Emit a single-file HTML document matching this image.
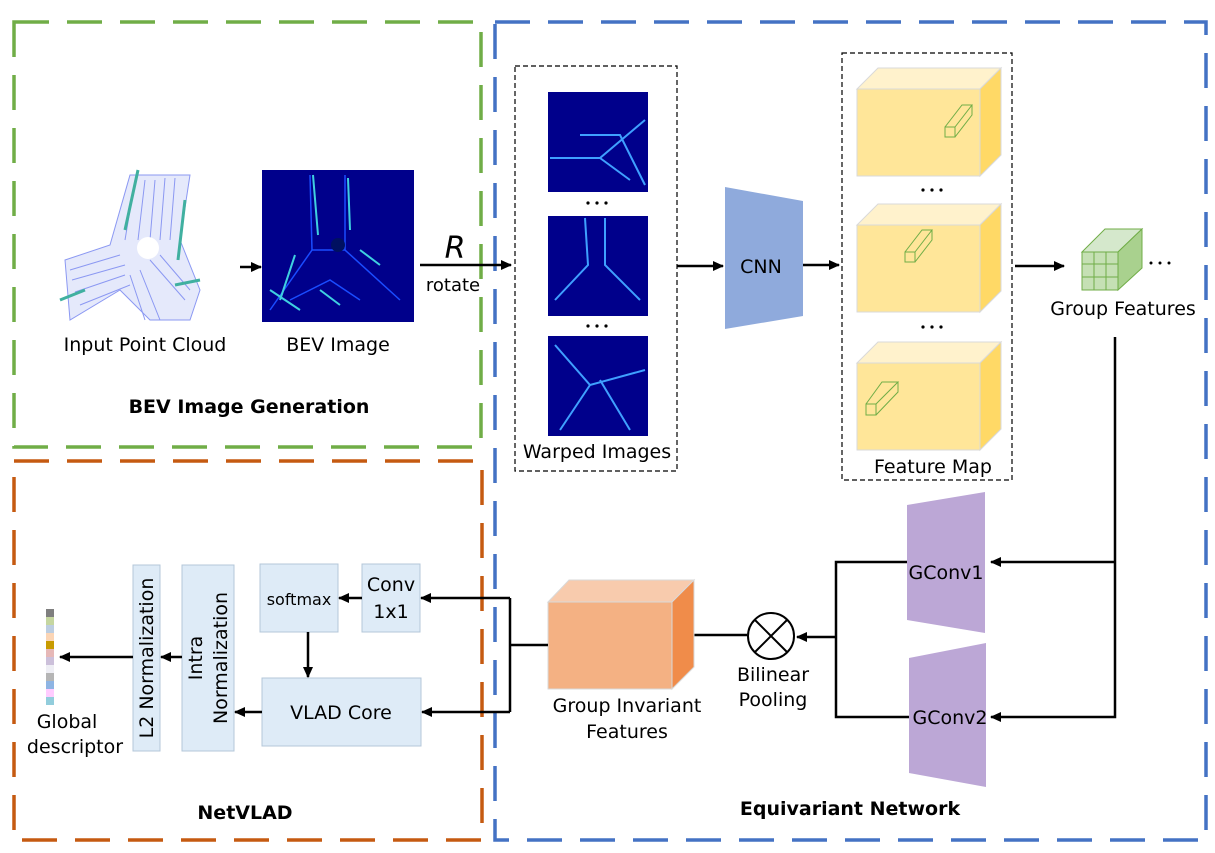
<!DOCTYPE html>
<html><head><meta charset="utf-8"><style>
html,body{margin:0;padding:0;background:#fff}
svg{display:block}
text{font-family:"DejaVu Sans","Liberation Sans",sans-serif;fill:#000}
</style></head><body>
<svg width="1215" height="853" viewBox="0 0 1215 853" xmlns="http://www.w3.org/2000/svg">
<defs>
<marker id="ah" viewBox="0 0 10 10" refX="9" refY="5" markerWidth="4.5" markerHeight="4.5" orient="auto"><path d="M0,0.5 L10,5 L0,9.5 z" fill="#000"/></marker>
</defs>
<!-- region boxes -->
<rect x="14" y="22" width="467" height="425" fill="none" stroke="#70ad47" stroke-width="3.5" stroke-dasharray="35,18"/>
<rect x="14" y="461" width="468" height="379" fill="none" stroke="#c55a11" stroke-width="3.5" stroke-dasharray="35,18"/>
<rect x="495" y="22" width="711" height="818" fill="none" stroke="#4472c4" stroke-width="3.5" stroke-dasharray="35,18"/>

<!-- point cloud -->
<g stroke="#6f7ff0" stroke-width="1" fill="none" opacity="0.8">
<path d="M130,175 L190,175 L180,240 L200,290 L190,320 L150,320 L120,290 L70,320 L65,260 L110,245 Z" fill="#dfe4fb"/>
<path d="M135,180 L125,240 M145,180 L138,240 M155,180 L150,240 M165,178 L160,240 M175,178 L170,240"/>
<path d="M70,270 L120,255 M72,280 L125,265 M75,292 L125,275 M80,305 L130,285 M150,260 L185,300 M160,255 L190,290 M140,270 L160,320 M130,275 L145,320"/>
</g>
<circle cx="148" cy="248" r="11" fill="#fff"/>
<g stroke="#40b0a0" stroke-width="3" fill="none">
<path d="M138,170 L125,230 M185,200 L178,260 M60,300 L85,290 M175,285 L200,280"/>
</g>
<text x="145" y="351" font-size="19" text-anchor="middle">Input Point Cloud</text>

<!-- BEV -->
<line x1="240" y1="267" x2="261" y2="267" stroke="#000" stroke-width="2.5" marker-end="url(#ah)"/>
<rect x="262" y="170" width="152" height="152" fill="#00008b"/>
<g stroke="#1a4cff" stroke-width="1.5" fill="none">
<path d="M310,175 L312,250 L270,310 M345,175 L345,250 L400,300 M312,250 L345,250 M290,300 L330,280 L360,300"/>
</g>
<g stroke="#3fd0e0" stroke-width="2" fill="none">
<path d="M313,175 L318,235 M348,178 L350,230 M295,255 L280,300 M360,250 L380,265 M270,290 L300,310 M320,290 L340,305"/>
</g>
<circle cx="338" cy="245" r="7" fill="#001060"/>
<text x="338" y="351" font-size="19" text-anchor="middle">BEV Image</text>
<text x="249" y="413" font-size="19" font-weight="bold" text-anchor="middle">BEV Image Generation</text>

<!-- rotate -->
<line x1="420" y1="265" x2="511" y2="265" stroke="#000" stroke-width="2.5" marker-end="url(#ah)"/>
<text x="455" y="258" font-size="30" font-style="italic" font-family="Liberation Serif,serif" text-anchor="middle">R</text>
<text x="453" y="291" font-size="18" text-anchor="middle">rotate</text>

<!-- warped images -->
<rect x="515" y="66" width="162" height="405" fill="none" stroke="#000" stroke-width="1.2" stroke-dasharray="5,3"/>
<g>
<rect x="548" y="92" width="100" height="100" fill="#00008b"/>
<path d="M550,158 L600,158 L645,120 M580,135 L620,135 L645,185 M600,158 L630,180" stroke="#3fa0ff" stroke-width="2" fill="none"/>
<rect x="548" y="216" width="100" height="100" fill="#00008b"/>
<path d="M585,218 L588,265 L555,300 M605,218 L605,265 L640,300" stroke="#3fa0ff" stroke-width="2" fill="none"/>
<rect x="548" y="336" width="100" height="100" fill="#00008b"/>
<path d="M555,345 L590,385 L645,370 M590,385 L560,430 M600,380 L630,430" stroke="#3fa0ff" stroke-width="2" fill="none"/>
</g>
<g fill="#000"><circle cx="588" cy="203" r="1.6"/><circle cx="597" cy="203" r="1.6"/><circle cx="606" cy="203" r="1.6"/>
<circle cx="588" cy="326" r="1.6"/><circle cx="597" cy="326" r="1.6"/><circle cx="606" cy="326" r="1.6"/></g>
<text x="597" y="458" font-size="19" text-anchor="middle">Warped Images</text>

<!-- CNN -->
<line x1="677" y1="266" x2="723" y2="266" stroke="#000" stroke-width="2.5" marker-end="url(#ah)"/>
<polygon points="725,187 803,201 803,316 725,329" fill="#8faadc"/>
<text x="761" y="273" font-size="19" text-anchor="middle">CNN</text>
<line x1="803" y1="265" x2="839" y2="265" stroke="#000" stroke-width="2.5" marker-end="url(#ah)"/>

<!-- feature map -->
<rect x="842" y="53" width="170" height="427" fill="none" stroke="#000" stroke-width="1.2" stroke-dasharray="5,3"/>
<g stroke="#d9d9d9" stroke-width="1">
<polygon points="857,89 878,68 1001,68 980,89" fill="#fff2cc"/>
<polygon points="980,89 1001,68 1001,155 980,176" fill="#ffd966"/>
<rect x="857" y="89" width="123" height="87" fill="#ffe699"/>
<polygon points="857,225 878,204 1001,204 980,225" fill="#fff2cc"/>
<polygon points="980,225 1001,204 1001,291 980,312" fill="#ffd966"/>
<rect x="857" y="225" width="123" height="87" fill="#ffe699"/>
<polygon points="857,363 878,342 1001,342 980,363" fill="#fff2cc"/>
<polygon points="980,363 1001,342 1001,429 980,450" fill="#ffd966"/>
<rect x="857" y="363" width="123" height="87" fill="#ffe699"/>
</g>
<g stroke="#70ad47" stroke-width="1" fill="none">
<rect x="945" y="127" width="10" height="10"/><path d="M945,127 L962,105 L972,105 L955,127 M972,105 L972,115 L955,137"/>
<rect x="905" y="252" width="10" height="10"/><path d="M905,252 L922,230 L932,230 L915,252 M932,230 L932,240 L915,262"/>
<rect x="866" y="404" width="10" height="11"/><path d="M866,404 L882,382 L898,382 L876,404 M898,382 L898,392 L876,415"/>
</g>
<g fill="#000"><circle cx="923" cy="190" r="1.6"/><circle cx="932" cy="190" r="1.6"/><circle cx="941" cy="190" r="1.6"/>
<circle cx="923" cy="327" r="1.6"/><circle cx="932" cy="327" r="1.6"/><circle cx="941" cy="327" r="1.6"/></g>
<text x="933" y="473" font-size="19" text-anchor="middle">Feature Map</text>

<!-- group features -->
<line x1="1015" y1="266" x2="1064" y2="266" stroke="#000" stroke-width="2.5" marker-end="url(#ah)"/>
<g stroke="#70ad47" stroke-width="1">
<polygon points="1082,252 1105,229 1142,229 1118,252" fill="#d5e8cc"/>
<polygon points="1118,252 1142,229 1142,268 1118,290" fill="#a9d18e"/>
<g fill="#c5e0b4">
<rect x="1082" y="252" width="12" height="12"/><rect x="1094" y="252" width="12" height="12"/><rect x="1106" y="252" width="12" height="12"/>
<rect x="1082" y="264" width="12" height="13"/><rect x="1094" y="264" width="12" height="13"/><rect x="1106" y="264" width="12" height="13"/>
<rect x="1082" y="277" width="12" height="13"/><rect x="1094" y="277" width="12" height="13"/><rect x="1106" y="277" width="12" height="13"/>
</g>
</g>
<g fill="#000"><circle cx="1151" cy="263" r="1.5"/><circle cx="1160" cy="263" r="1.5"/><circle cx="1169" cy="263" r="1.5"/></g>
<text x="1123" y="315" font-size="19" text-anchor="middle">Group Features</text>

<!-- connectors to GConv -->
<polyline points="1115,337 1115,717 991,717" fill="none" stroke="#000" stroke-width="2.5" marker-end="url(#ah)"/>
<line x1="1115" y1="562" x2="991" y2="562" stroke="#000" stroke-width="2.5" marker-end="url(#ah)"/>
<polygon points="907,505 985,492 985,633 907,620" fill="#bca7d6"/>
<polygon points="909,658 986,643 986,787 909,773" fill="#bca7d6"/>
<text x="946" y="579" font-size="19" text-anchor="middle">GConv1</text>
<text x="950" y="724" font-size="19" text-anchor="middle">GConv2</text>
<polyline points="907,562 836,562 836,717 909,717" fill="none" stroke="#000" stroke-width="2.5"/>
<line x1="836" y1="637" x2="797" y2="637" stroke="#000" stroke-width="2.5" marker-end="url(#ah)"/>
<circle cx="771" cy="636" r="23" fill="#fff" stroke="#000" stroke-width="2"/>
<path d="M755,620 L787,652 M787,620 L755,652" stroke="#000" stroke-width="2"/>
<text x="773" y="681" font-size="19" text-anchor="middle">Bilinear</text>
<text x="773" y="706" font-size="19" text-anchor="middle">Pooling</text>
<line x1="747" y1="635" x2="674" y2="635" stroke="#000" stroke-width="2.5" marker-end="url(#ah)"/>

<!-- orange cube -->
<g stroke="#d9d9d9" stroke-width="1">
<polygon points="548,602 569,580 694,580 672,602" fill="#f8cbad"/>
<polygon points="672,602 694,580 694,667 672,689" fill="#f08c4a"/>
<rect x="548" y="602" width="124" height="87" fill="#f4b183"/>
</g>
<text x="627" y="712" font-size="19" text-anchor="middle">Group Invariant</text>
<text x="627" y="738" font-size="19" text-anchor="middle">Features</text>
<polyline points="548,645 510,645" fill="none" stroke="#000" stroke-width="2.5"/>
<line x1="510" y1="598" x2="510" y2="712" stroke="#000" stroke-width="2.5"/>
<line x1="510" y1="598" x2="421" y2="598" stroke="#000" stroke-width="2.5" marker-end="url(#ah)"/>
<line x1="510" y1="712" x2="422" y2="712" stroke="#000" stroke-width="2.5" marker-end="url(#ah)"/>

<!-- NetVLAD -->
<g fill="#deebf7" stroke="#b4c7d9" stroke-width="1">
<rect x="362" y="564" width="58" height="68"/>
<rect x="260" y="564" width="78" height="68"/>
<rect x="262" y="678" width="159" height="68"/>
<rect x="182" y="565" width="52" height="186"/>
<rect x="133" y="565" width="27" height="186"/>
</g>
<text x="391" y="591" font-size="19" text-anchor="middle">Conv</text>
<text x="391" y="618" font-size="19" text-anchor="middle">1x1</text>
<text x="299" y="605" font-size="16" text-anchor="middle">softmax</text>
<text x="341" y="719" font-size="19" text-anchor="middle">VLAD Core</text>
<text transform="translate(202,658) rotate(-90)" font-size="19" text-anchor="middle">Intra</text>
<text transform="translate(227,658) rotate(-90)" font-size="19" text-anchor="middle">Normalization</text>
<text transform="translate(153,658) rotate(-90)" font-size="19" text-anchor="middle">L2 Normalization</text>
<line x1="362" y1="598" x2="339" y2="598" stroke="#000" stroke-width="2.5" marker-end="url(#ah)"/>
<line x1="308" y1="632" x2="308" y2="677" stroke="#000" stroke-width="2.5" marker-end="url(#ah)"/>
<line x1="262" y1="712" x2="235" y2="712" stroke="#000" stroke-width="2.5" marker-end="url(#ah)"/>
<line x1="182" y1="657" x2="161" y2="657" stroke="#000" stroke-width="2.5" marker-end="url(#ah)"/>
<line x1="133" y1="657" x2="60" y2="657" stroke="#000" stroke-width="2.5" marker-end="url(#ah)"/>
<g>
<rect x="46" y="609" width="8" height="8" fill="#7f7f7f"/>
<rect x="46" y="617" width="8" height="8" fill="#c5d6a0"/>
<rect x="46" y="625" width="8" height="8" fill="#bccde0"/>
<rect x="46" y="633" width="8" height="8" fill="#fbd5b5"/>
<rect x="46" y="641" width="8" height="8" fill="#c89b00"/>
<rect x="46" y="649" width="8" height="8" fill="#e6b8b7"/>
<rect x="46" y="657" width="8" height="8" fill="#ccc0da"/>
<rect x="46" y="665" width="8" height="8" fill="#eeeef4"/>
<rect x="46" y="673" width="8" height="8" fill="#b5b5b5"/>
<rect x="46" y="681" width="8" height="8" fill="#8eb4e3"/>
<rect x="46" y="689" width="8" height="8" fill="#ffccff"/>
<rect x="46" y="697" width="8" height="8" fill="#92cddc"/>
</g>
<text x="67" y="728" font-size="19" text-anchor="middle">Global</text>
<text x="75" y="753" font-size="19" text-anchor="middle">descriptor</text>
<text x="245" y="819" font-size="19" font-weight="bold" text-anchor="middle">NetVLAD</text>
<text x="850" y="815" font-size="19" font-weight="bold" text-anchor="middle">Equivariant Network</text>
</svg>
</body></html>
